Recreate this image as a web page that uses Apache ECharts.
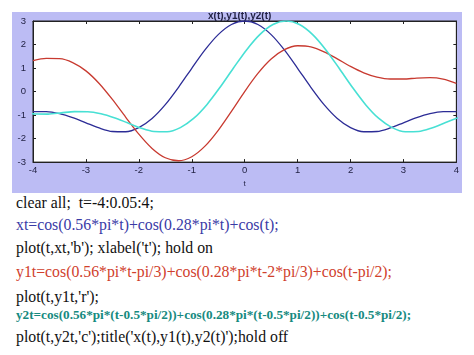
<!DOCTYPE html>
<html>
<head>
<meta charset="utf-8">
<script src="https://cdn.jsdelivr.net/npm/echarts@6/dist/echarts.min.js"></script>
<style>
html,body{margin:0;padding:0;background:#fff;width:474px;height:355px;overflow:hidden;}
#chart{position:absolute;left:12px;top:12px;width:450px;height:181px;background:#bcbcf4;}
.ln{position:absolute;left:16px;white-space:nowrap;font-family:"Liberation Serif","Times New Roman",serif;font-size:15.8px;line-height:20px;height:20px;color:#111;}
.blue{color:#3a3aa6;}
.red{color:#d0402c;}
.teal{color:#168a80;font-weight:bold;font-size:13.2px;}
</style>
</head>
<body>
<div id="chart"></div>
<div class="ln" style="top:193px;">clear all;&nbsp; t=-4:0.05:4;</div>
<div class="ln blue" style="top:215px;">xt=cos(0.56*pi*t)+cos(0.28*pi*t)+cos(t);</div>
<div class="ln" style="top:238px;">plot(t,xt,'b'); xlabel('t'); hold on</div>
<div class="ln red" style="top:262px;">y1t=cos(0.56*pi*t-pi/3)+cos(0.28*pi*t-2*pi/3)+cos(t-pi/2);</div>
<div class="ln" style="top:287px;">plot(t,y1t,'r');</div>
<div class="ln teal" style="top:305px;">y2t=cos(0.56*pi*(t-0.5*pi/2))+cos(0.28*pi*(t-0.5*pi/2))+cos(t-0.5*pi/2);</div>
<div class="ln" style="top:327px;">plot(t,y2t,'c');title('x(t),y1(t),y2(t)');hold off</div>
<script>
var titleText = 'x(t),y1(t),y2(t)';
var xLabel = 't';
var tVals = [-4,-3.75,-3.5,-3.25,-3,-2.75,-2.5,-2.25,-2,-1.75,-1.5,-1.25,-1,-0.75,-0.5,-0.25,0,0.25,0.5,0.75,1,1.25,1.5,1.75,2,2.25,2.5,2.75,3,3.25,3.5,3.75,4];
var xt = [-0.854,-0.857,-0.942,-1.110,-1.330,-1.549,-1.698,-1.710,-1.533,-1.145,-0.557,0.182,0.990,1.771,2.420,2.850,3.000,2.850,2.420,1.771,0.990,0.182,-0.557,-1.145,-1.533,-1.710,-1.698,-1.549,-1.330,-1.110,-0.942,-0.857,-0.854];
var y1t = [1.312,1.409,1.400,1.233,0.879,0.343,-0.336,-1.085,-1.812,-2.419,-2.816,-2.942,-2.772,-2.322,-1.649,-0.841,0.000,0.770,1.382,1.781,1.947,1.900,1.691,1.389,1.070,0.798,0.615,0.533,0.533,0.572,0.590,0.530,0.347];
var t2 = [-4.215,-3.965,-3.715,-3.465,-3.215,-2.965,-2.715,-2.465,-2.215,-1.965,-1.715,-1.465,-1.215,-0.965,-0.715,-0.465,-0.215,0.035,0.285,0.535,0.785,1.035,1.285,1.535,1.785,2.035,2.285,2.535,2.785,3.035,3.285,3.535,3.785,4.035];
var y2t = [-0.834,-0.953,-0.958,-0.905,-0.854,-0.857,-0.942,-1.110,-1.330,-1.549,-1.698,-1.710,-1.533,-1.145,-0.557,0.182,0.990,1.771,2.420,2.850,3.000,2.850,2.420,1.771,0.990,0.182,-0.557,-1.145,-1.533,-1.710,-1.698,-1.549,-1.330,-1.110];

function pairs(xs, ys){ return xs.map(function(x,i){ return [x, ys[i]]; }); }

var chart = echarts.init(document.getElementById('chart'), null, {renderer:'canvas'});
var axLine = {show:true, onZero:false, lineStyle:{color:'#222', width:1}};
var tick = {show:true, inside:true, length:3, lineStyle:{color:'#222'}};
var lbl = {fontSize:9.5, color:'#222244', fontFamily:'Liberation Sans, Arial, sans-serif'};
chart.setOption({
  animation:false,
  backgroundColor:'transparent',
  grid:{left:21, top:9, width:426, height:156, show:true, backgroundColor:'#fff', borderColor:'#222', borderWidth:1},
  graphic:[{type:'text', left:196, top:-1, style:{text:titleText, fontSize:10, fontWeight:'bold', fill:'#222244', fontFamily:'Liberation Sans, Arial, sans-serif'}}],
  xAxis:[
    {type:'value', min:-4, max:4, interval:1, position:'bottom', axisLine:axLine, axisTick:tick, splitLine:{show:false},
     axisLabel:Object.assign({margin:3}, lbl), name:xLabel, nameLocation:'middle', nameGap:12, nameTextStyle:{fontSize:8, color:'#222244'}},
    {type:'value', min:-4, max:4, interval:1, position:'top', axisLine:axLine, axisTick:tick, splitLine:{show:false}, axisLabel:{show:false}}
  ],
  yAxis:[
    {type:'value', min:-3, max:3, interval:1, position:'left', axisLine:axLine, axisTick:tick, splitLine:{show:false}, axisLabel:Object.assign({margin:7}, lbl)},
    {type:'value', min:-3, max:3, interval:1, position:'right', axisLine:axLine, axisTick:tick, splitLine:{show:false}, axisLabel:{show:false}}
  ],
  series:[
    {type:'line', name:'xt', data:pairs(tVals, xt), showSymbol:false, smooth:0.3, lineStyle:{color:'#2c2c96', width:1.3}, itemStyle:{color:'#2c2c96'}},
    {type:'line', name:'y1t', data:pairs(tVals, y1t), showSymbol:false, smooth:0.3, lineStyle:{color:'#c83a30', width:1.3}, itemStyle:{color:'#c83a30'}},
    {type:'line', name:'y2t', data:pairs(t2, y2t), showSymbol:false, smooth:0.3, clip:true, lineStyle:{color:'#48e0d4', width:1.6}, itemStyle:{color:'#48e0d4'}}
  ]
});
</script>
</body>
</html>
